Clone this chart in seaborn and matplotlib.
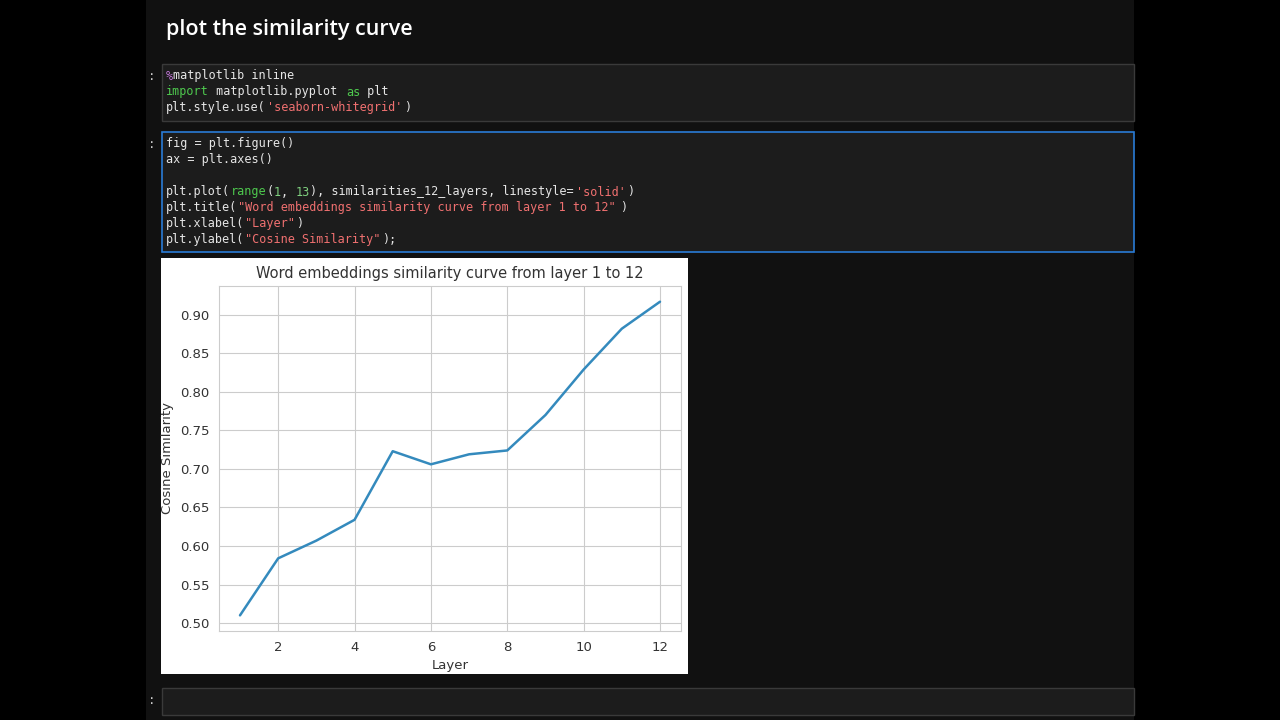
import matplotlib
matplotlib.use("Agg")
import matplotlib.pyplot as plt
from matplotlib.patches import Rectangle
import seaborn as sns
import pandas as pd

layers = [1, 2, 3, 4, 5, 6, 7, 8, 9, 10, 11, 12]
similarities = [0.510, 0.584, 0.607, 0.634, 0.723, 0.706, 0.719, 0.724, 0.770, 0.829, 0.882, 0.917]
x_ticks = [2, 4, 6, 8, 10, 12]
y_ticks = [0.50, 0.55, 0.60, 0.65, 0.70, 0.75, 0.80, 0.85, 0.90]

sns.set_style("whitegrid")
plt.rcParams['font.family'] = ['DejaVu Sans']

W, H = 1280, 720
fig = plt.figure(figsize=(12.8, 7.2), dpi=100, facecolor="black")

def rect(x0, y0, x1, y1, fc, ec="none", lw=1):
    fig.add_artist(Rectangle((x0 / W, 1 - y1 / H), (x1 - x0) / W, (y1 - y0) / H,
                             transform=fig.transFigure, facecolor=fc, edgecolor=ec,
                             linewidth=lw, zorder=-5))

def txt(x, y, s, **kw):
    fig.text(x / W, 1 - y / H, s, va="center", ha="left", **kw)

# notebook background
rect(146, 0, 1134, 720, "#111111")
txt(166, 30, "plot the similarity curve", color="white", fontsize=15.5, fontweight="semibold",
    family="Open Sans")

# code cells
rect(162, 64, 1134, 121, "#1c1c1c", "#3a3a3a")
rect(162, 132, 1134, 252, "#1c1c1c", "#2a7bd6", 1.2)
rect(162, 688, 1134, 715, "#1c1c1c", "#3a3a3a")
for yy in (76, 144, 700):
    txt(148, yy, ":", color="#cccccc", fontsize=9, family="monospace")

CW = 7.2
def code(line_y, segments):
    col = 0
    for s, c in segments:
        txt(166 + col * CW, line_y, s, color=c, fontsize=8.5, family="monospace")
        col += len(s)

fg, kw_c, st_c, fn_c, num_c, mag = "#e6e6e6", "#4ec94e", "#f07070", "#6fb3f0", "#7fd07f", "#c678dd"
code(76, [("%", mag), ("matplotlib inline", fg)])
code(92, [("import", kw_c), (" matplotlib.pyplot ", fg), ("as", kw_c), (" plt", fg)])
code(108, [("plt.style.use(", fg), ("'seaborn-whitegrid'", st_c), (")", fg)])
code(144, [("fig = plt.figure()", fg)])
code(160, [("ax = plt.axes()", fg)])
code(192, [("plt.plot(", fg), ("range", kw_c), ("(", fg), ("1", num_c), (", ", fg), ("13", num_c),
           ("), similarities_12_layers, linestyle=", fg), ("'solid'", st_c), (")", fg)])
code(208, [("plt.title(", fg), ('"Word embeddings similarity curve from layer 1 to 12"', st_c), (")", fg)])
code(224, [("plt.xlabel(", fg), ('"Layer"', st_c), (")", fg)])
code(240, [("plt.ylabel(", fg), ('"Cosine Similarity"', st_c), (");", fg)])

# white output panel
rect(161, 258, 688, 674, "white")

ax = fig.add_axes([219 / W, 1 - 631 / H, (681 - 219) / W, (631 - 286) / H])
df = pd.DataFrame({"Layer": layers, "Cosine Similarity": similarities})
sns.lineplot(data=df, x="Layer", y="Cosine Similarity", ax=ax, color="#348abd", linewidth=1.8)
ax.set_xticks(x_ticks)
ax.set_yticks(y_ticks)
ax.set_yticklabels([f"{v:.2f}" for v in y_ticks])
ax.set_xlim(0.45, 12.55)
ax.set_ylim(0.4897, 0.9374)
ax.set_title("Word embeddings similarity curve from layer 1 to 12", fontsize=10.5, color="#333333")
ax.set_xlabel("Layer", fontsize=9.5, color="#333333")
ax.set_ylabel("Cosine Similarity", fontsize=9.5, color="#333333")
ax.tick_params(labelsize=9.5, colors="#333333")
for s in ax.spines.values():
    s.set_color("#cccccc")

fig.savefig("out.png", dpi=100, facecolor="black")
